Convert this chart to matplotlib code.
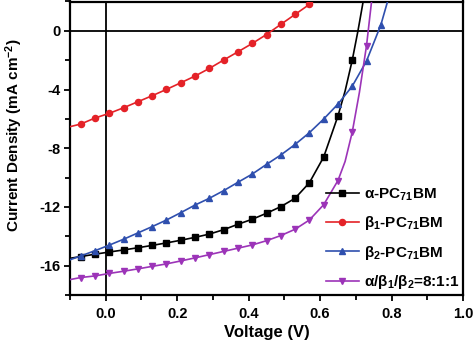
import numpy as np
import matplotlib
matplotlib.use("Agg")
import matplotlib.pyplot as plt
from matplotlib.ticker import MultipleLocator, FormatStrFormatter

plt.rcParams["font.family"] = ["Liberation Sans", "DejaVu Sans"]
plt.rcParams["font.weight"] = "bold"
plt.rcParams["mathtext.fontset"] = "custom"
plt.rcParams["mathtext.rm"] = "Liberation Sans:bold"
plt.rcParams["mathtext.bf"] = "Liberation Sans:bold"
plt.rcParams["mathtext.it"] = "Liberation Sans:bold"
plt.rcParams["mathtext.default"] = "bf"
plt.rcParams["axes.unicode_minus"] = False

# J-V curves (voltage in V, current density in mA cm^-2)
v_alpha = [-0.10, -0.07, -0.03, 0.01, 0.05, 0.09, 0.13, 0.17, 0.21, 0.25, 0.29,
           0.33, 0.37, 0.41, 0.45, 0.49, 0.53, 0.57, 0.61, 0.65, 0.67, 0.69,
           0.706, 0.722]
j_alpha = [-15.50, -15.38, -15.22, -15.07, -14.93, -14.78, -14.62, -14.45,
           -14.27, -14.07, -13.85, -13.55, -13.18, -12.84, -12.43, -11.98,
           -11.41, -10.35, -8.60, -5.80, -4.10, -2.00, 0.00, 2.20]

v_beta1 = [-0.10, -0.07, -0.03, 0.01, 0.05, 0.09, 0.13, 0.17, 0.21, 0.25, 0.29,
           0.33, 0.37, 0.41, 0.45, 0.49, 0.53, 0.57, 0.585]
j_beta1 = [-6.53, -6.35, -5.94, -5.62, -5.24, -4.83, -4.42, -3.99, -3.54,
           -3.08, -2.56, -1.99, -1.43, -0.86, -0.25, 0.44, 1.12, 1.80, 2.10]

v_beta2 = [-0.10, -0.07, -0.03, 0.01, 0.05, 0.09, 0.13, 0.17, 0.21, 0.25, 0.29,
           0.33, 0.37, 0.41, 0.45, 0.49, 0.53, 0.57, 0.61, 0.65, 0.69, 0.73,
           0.77, 0.79]
j_beta2 = [-15.60, -15.34, -14.98, -14.60, -14.20, -13.77, -13.34, -12.89,
           -12.39, -11.87, -11.41, -10.89, -10.32, -9.76, -9.10, -8.46, -7.74,
           -6.94, -6.01, -4.99, -3.77, -2.05, 0.40, 2.10]

v_mix = [-0.10, -0.07, -0.03, 0.01, 0.05, 0.09, 0.13, 0.17, 0.21, 0.25, 0.29,
         0.33, 0.37, 0.41, 0.45, 0.49, 0.53, 0.57, 0.61, 0.65, 0.67, 0.69,
         0.71, 0.73, 0.745]
j_mix = [-16.95, -16.81, -16.70, -16.53, -16.38, -16.22, -16.05, -15.88,
         -15.68, -15.47, -15.25, -15.03, -14.81, -14.59, -14.30, -13.95,
         -13.52, -12.89, -11.85, -10.20, -8.90, -6.90, -4.20, -1.00, 2.20]

labels = [r"α-PC$_{71}$BM", r"β$_1$-PC$_{71}$BM", r"β$_2$-PC$_{71}$BM",
          r"α/β$_1$/β$_2$=8:1:1"]
colors = ["#000000", "#e42228", "#2f4fae", "#9c34b8"]
markers = ["s", "o", "^", "v"]
msizes = [3.8, 4.4, 5.0, 5.0]

xlim = (-0.1, 1.0)
ylim = (-18, 2)

fig = plt.figure(figsize=(4.74, 3.47), dpi=100)
ax = fig.add_axes([70 / 474, 52 / 347, 393 / 474, 293.5 / 347])

series = [(v_alpha, j_alpha), (v_beta1, j_beta1), (v_beta2, j_beta2), (v_mix, j_mix)]
for (v, j), lab, c, m, ms in zip(series, labels, colors, markers, msizes):
    v = np.asarray(v)
    # symbols sit on the 0.04 V sampling grid
    k = (v + 0.03) / 0.04
    mark_idx = [i for i, kk in enumerate(k)
                if abs(kk - round(kk)) < 1e-6 and kk > -1.5]
    ax.plot(v, j, color=c, lw=1.2, marker=m, ms=ms, markevery=mark_idx,
            label=lab, zorder=3)

ax.axhline(0, color="black", lw=1.3, zorder=2)
ax.axvline(0, color="black", lw=1.3, zorder=2)

ax.set_xlim(*xlim)
ax.set_ylim(*ylim)
ax.xaxis.set_major_locator(MultipleLocator(0.2))
ax.xaxis.set_minor_locator(MultipleLocator(0.1))
ax.yaxis.set_major_locator(MultipleLocator(4))
ax.yaxis.set_minor_locator(MultipleLocator(2))
ax.xaxis.set_major_formatter(FormatStrFormatter("%.1f"))
ax.tick_params(which="both", direction="out", width=1.3, labelsize=10.5,
               top=False, right=False)
ax.tick_params(axis="x", which="major", length=4, pad=4.5)
ax.tick_params(axis="y", which="major", length=4, pad=3)
ax.tick_params(which="minor", length=3.5)
for s in ax.spines.values():
    s.set_linewidth(1.6)

ax.set_xlabel("Voltage (V)", fontsize=12, fontweight="bold", labelpad=3)
ax.set_ylabel(r"Current Density (mA cm$^{-2}$)", fontsize=11,
              fontweight="bold")
ax.yaxis.set_label_coords(-0.115, 0.545)

leg = ax.legend(loc="lower right", bbox_to_anchor=(1.008, -0.008), frameon=False,
                fontsize=11, handlelength=2.2, handletextpad=0.35,
                labelspacing=0.75, borderaxespad=0.0, numpoints=1)

fig.savefig("out.png", dpi=100)
